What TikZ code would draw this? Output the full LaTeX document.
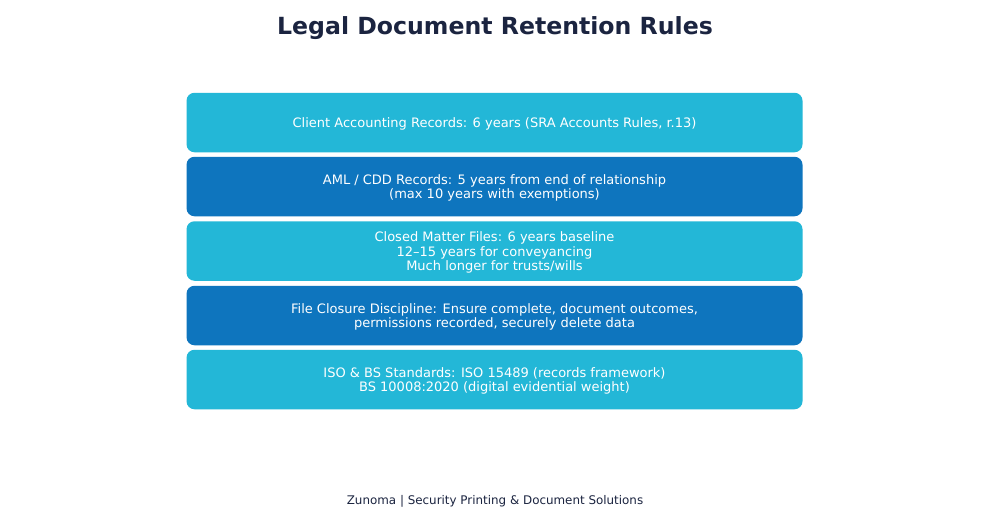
\documentclass[tikz,border=0pt]{standalone}
\usepackage{fontspec}
\setmainfont{DejaVu Sans}
\definecolor{lightb}{HTML}{23B7D7}
\definecolor{darkb}{HTML}{0E75BE}
\definecolor{navy}{HTML}{1B2440}
\begin{document}
\begin{tikzpicture}[x=1pt,y=-1pt,
  box/.style={rounded corners=8pt,minimum width=616pt,minimum height=59.5pt,inner sep=0pt,text=white,align=center,font=\fontsize{13}{14.5}\selectfont},
  lbl/.style={text=white,align=center,font=\fontsize{13}{14.5}\selectfont}]
\useasboundingbox[fill=white] (0,0) rectangle (990,515);
\node[font=\fontsize{23.6}{26}\selectfont\bfseries,text=navy] (title) at (495,28.5) {Legal Document Retention Rules};
\node[box,fill=lightb] (b1) at (494.5,122.5) {};
\node[box,fill=darkb] (b2) at (494.5,186.5) {};
\node[box,fill=lightb] (b3) at (494.5,251) {};
\node[box,fill=darkb] (b4) at (494.5,315.5) {};
\node[box,fill=lightb] (b5) at (494.5,379.5) {};
\node[lbl] (t1) at ([yshift=-1.5pt]b1.center) {Client Accounting Records: 6 years (SRA Accounts Rules, r.13)};
\node[lbl] (t2) at ([yshift=-1.5pt]b2.center) {AML / CDD Records: 5 years from end of relationship\\(max 10 years with exemptions)};
\node[lbl] (t3) at ([yshift=-1.5pt]b3.center) {Closed Matter Files: 6 years baseline\\12–15 years for conveyancing\\Much longer for trusts/wills};
\node[lbl] (t4) at ([yshift=-1.5pt]b4.center) {File Closure Discipline: Ensure complete, document outcomes,\\permissions recorded, securely delete data};
\node[lbl] (t5) at ([yshift=-1.5pt]b5.center) {ISO \& BS Standards: ISO 15489 (records framework)\\BS 10008:2020 (digital evidential weight)};
\node[font=\fontsize{11.9}{14}\selectfont,text=navy] (foot) at (495,501) {Zunoma | Security Printing \& Document Solutions};
\end{tikzpicture}
\end{document}
